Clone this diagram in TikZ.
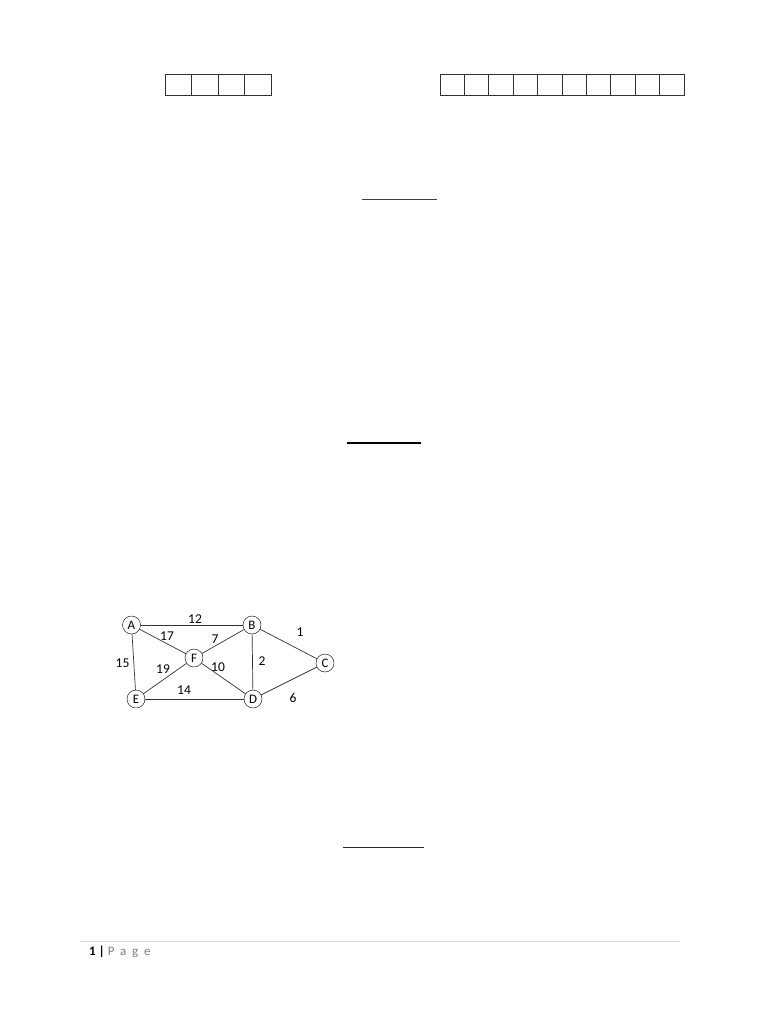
\documentclass[tikz,border=0pt]{standalone}
\usepackage{fontspec}
\setmainfont{Carlito}
\usepackage{tikz}
\usetikzlibrary{positioning, calc}

\tikzset{
  vertex/.style={draw, circle, inner sep=0pt, minimum size=18pt, font=\fontsize{13}{15}\selectfont},
  weight/.style={font=\fontsize{13.5}{15}\selectfont},
  edge/.style={draw=black!80, line width=0.7pt}
}

\begin{document}
\begin{tikzpicture}[x=1pt, y=-1pt, >=stealth]
      \useasboundingbox[fill=white] (0, 0) rectangle (768, 1024);

      % answer boxes
      \foreach \i in {0,...,3}
        \draw[black!80, line width=0.8pt] ({165 + \i*26.5}, 74) rectangle ({165 + (\i+1)*26.5}, 95);
      \foreach \i in {0,...,9}
        \draw[black!80, line width=0.8pt] ({440 + \i*24.4}, 74) rectangle ({440 + (\i+1)*24.4}, 95);

      % blank rules
      \draw[black!75, line width=1pt] (362, 200) -- (437, 200);
      \draw[black, line width=1.2pt] (347, 443) -- (421, 443);
      \draw[black!85, line width=1pt] (343, 847) -- (424, 847);

      % graph
      \node[vertex] (A) at (131.5, 625) {A};
      \node[vertex] (B) at (252, 625) {B};
      \node[vertex] (F) at (194, 658) {F};
      \node[vertex] (C) at (325, 663) {C};
      \node[vertex] (E) at (136, 699) {E};
      \node[vertex] (D) at (253, 699) {D};

      \draw[edge] (A) -- (B);
      \draw[edge] (A) -- (F);
      \draw[edge] (F) -- (B);
      \draw[edge] (B) -- (C);
      \draw[edge] (B) -- (D);
      \draw[edge] (A) -- (E);
      \draw[edge] (E) -- (F);
      \draw[edge] (F) -- (D);
      \draw[edge] (E) -- (D);
      \draw[edge] (D) -- (C);

      \node[weight] (w12) at (195, 619) {12};
      \node[weight] (w17) at (167, 636) {17};
      \node[weight] (w7) at (215, 639) {7};
      \node[weight] (w1) at (300, 632) {1};
      \node[weight] (w15) at (122.5, 663) {15};
      \node[weight] (w19) at (163, 669) {19};
      \node[weight] (w10) at (218, 667) {10};
      \node[weight] (w2) at (262, 661) {2};
      \node[weight] (w14) at (184, 690) {14};
      \node[weight] (w6) at (293, 698) {6};

      % footer
      \draw[black!15, line width=0.8pt] (80, 941) -- (680, 941);
      \node[anchor=west, font=\fontsize{13}{15}\selectfont, inner sep=0pt] (pg) at (89, 952)
        {\textbf{1 |} \textcolor{black!50}{\addfontfeature{LetterSpace=45}Page}};

    \end{tikzpicture}
\end{document}
